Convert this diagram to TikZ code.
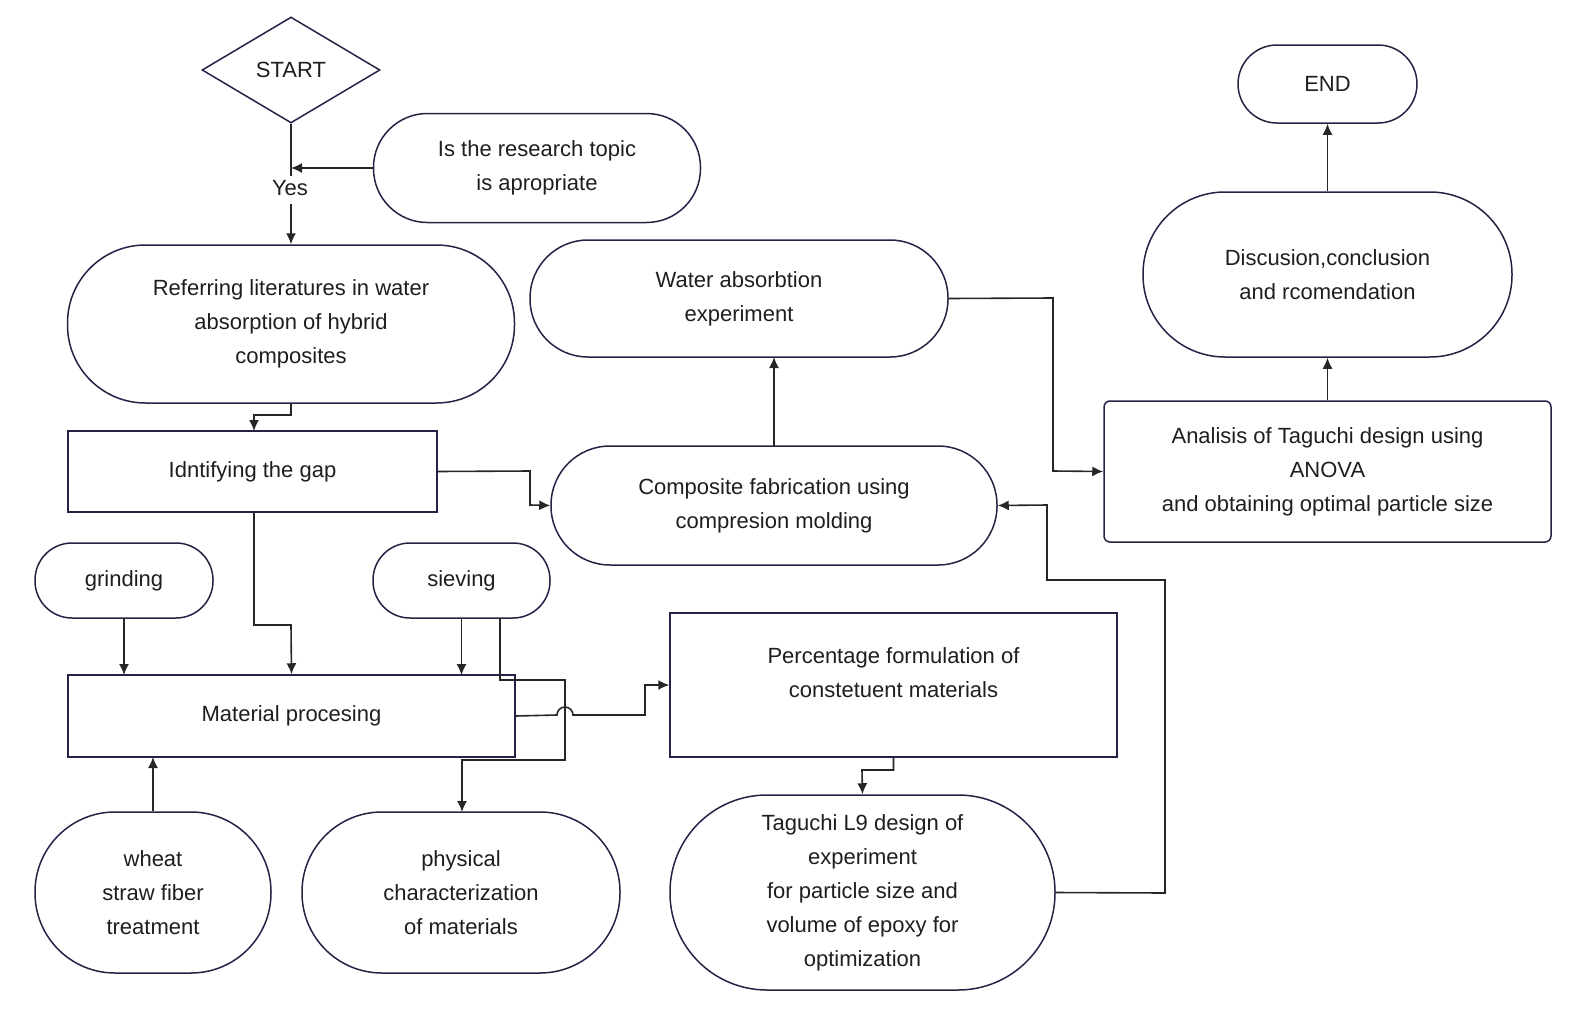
\documentclass[tikz,border=0pt]{standalone}
\usepackage{fontspec}
\setmainfont{Liberation Sans}
\usetikzlibrary{shapes.geometric,arrows.meta}
\definecolor{bd}{RGB}{35,35,70}
\definecolor{tx}{RGB}{30,30,30}
\begin{document}
\begin{tikzpicture}[x=1pt,y=-1pt,
  every node/.style={font=\fontsize{22}{34}\selectfont, text=tx, align=center},
  box/.style={draw=bd, line width=1.5pt, inner sep=0pt},
  pill/.style={box, rounded corners=#1},
  ar/.style={draw=black!85, line width=1.6pt, -{Latex[length=11pt,width=10pt]}},
  ln/.style={draw=black!85, line width=1.6pt}]
\useasboundingbox (0,0) rectangle (1593,1012);
\node[box, diamond, aspect=1.68, minimum width=178pt, minimum height=106pt] (start) at (291,70) {START};
\node[pill=54pt, minimum width=327pt, minimum height=109pt] (topic) at (537,168) {Is the research topic\\is apropriate};
\node (yes) at (290,188) {Yes};
\node[pill=78pt, minimum width=447pt, minimum height=158pt] (ref) at (291,324) {Referring literatures in water\\absorption of hybrid\\composites};
\node[box, minimum width=369pt, minimum height=81pt] (gap) at (252.5,471.5) {Idntifying the gap};
\node[pill=58pt, minimum width=418pt, minimum height=117pt] (water) at (739,298.5) {Water absorbtion\\experiment};
\node[pill=59pt, minimum width=446pt, minimum height=119pt] (comp) at (774,505.5) {Composite fabrication using\\compresion molding};
\node[pill=39pt, minimum width=179pt, minimum height=78pt] (end) at (1327.5,84) {END};
\node[pill=82pt, minimum width=369pt, minimum height=165pt] (disc) at (1327.5,274.5) {Discusion,conclusion\\and rcomendation};
\node[box, rounded corners=6pt, minimum width=447pt, minimum height=141pt] (ana) at (1327.5,471.5) {Analisis of Taguchi design using\\ANOVA\\and obtaining optimal particle size};
\node[pill=37pt, minimum width=178pt, minimum height=75pt] (grind) at (124,580.5) {grinding};
\node[pill=37pt, minimum width=177pt, minimum height=75pt] (siev) at (461.5,580.5) {sieving};
\node[box, minimum width=447pt, minimum height=82pt] (mat) at (291.5,716) {Material procesing};
\node[box, minimum width=447pt, minimum height=144pt] (perc) at (893.5,685) {};
\node at (893.5,673) {Percentage formulation of\\constetuent materials};
\node[pill=80pt, minimum width=236pt, minimum height=161pt] (wheat) at (153,892.5) {wheat\\straw fiber\\treatment};
\node[pill=80pt, minimum width=318pt, minimum height=161pt] (phys) at (461,892.5) {physical\\characterization\\of materials};
\node[pill=97pt, minimum width=385pt, minimum height=195pt] (tag) at (862.5,892.5) {Taguchi L9 design of\\experiment\\for particle size and\\volume of epoxy for\\optimization};
% connectors
\draw[ln] (start.south) -- (291,176);
\draw[ar] (topic.west) -- (291,168);
\draw[ar] (291,204) -- (ref.north);
\draw[ar] (ref.south) -- (291,415) -- (254,415) -- (254,431);
\draw[ar] (gap.east) -- (530,471) -- (530,505) -- (comp.west);
\draw[ar] (254,512) -- (254,625) -- (291,625) -- (mat.north);
\draw[ar] (124,618) -- (124,675);
\draw[ar] (siev.south) -- (461.5,675);
\draw[ar] (500,618) -- (500,680) -- (565,680) -- (565,760) -- (462,760) -- (462,812);
\draw[ar] (mat.east) -- (557,715) arc[start angle=180,end angle=0,radius=8pt] -- (645,715) -- (645,685) -- (perc.west);
\draw[ar] (wheat.north) -- (153,757);
\draw[ar] (perc.south) -- (893.5,770) -- (862,770) -- (tag.north);
\draw[ar] (tag.east) -- (1165,893) -- (1165,580) -- (1047,580) -- (1047,505) -- (comp.east);
\draw[ar] (774,446) -- (774,357);
\draw[ar] (water.east) -- (1053,298) -- (1053,471) -- (ana.west);
\draw[ar] (ana.north) -- (disc.south);
\draw[ar] (disc.north) -- (end.south);
\end{tikzpicture}
\end{document}
